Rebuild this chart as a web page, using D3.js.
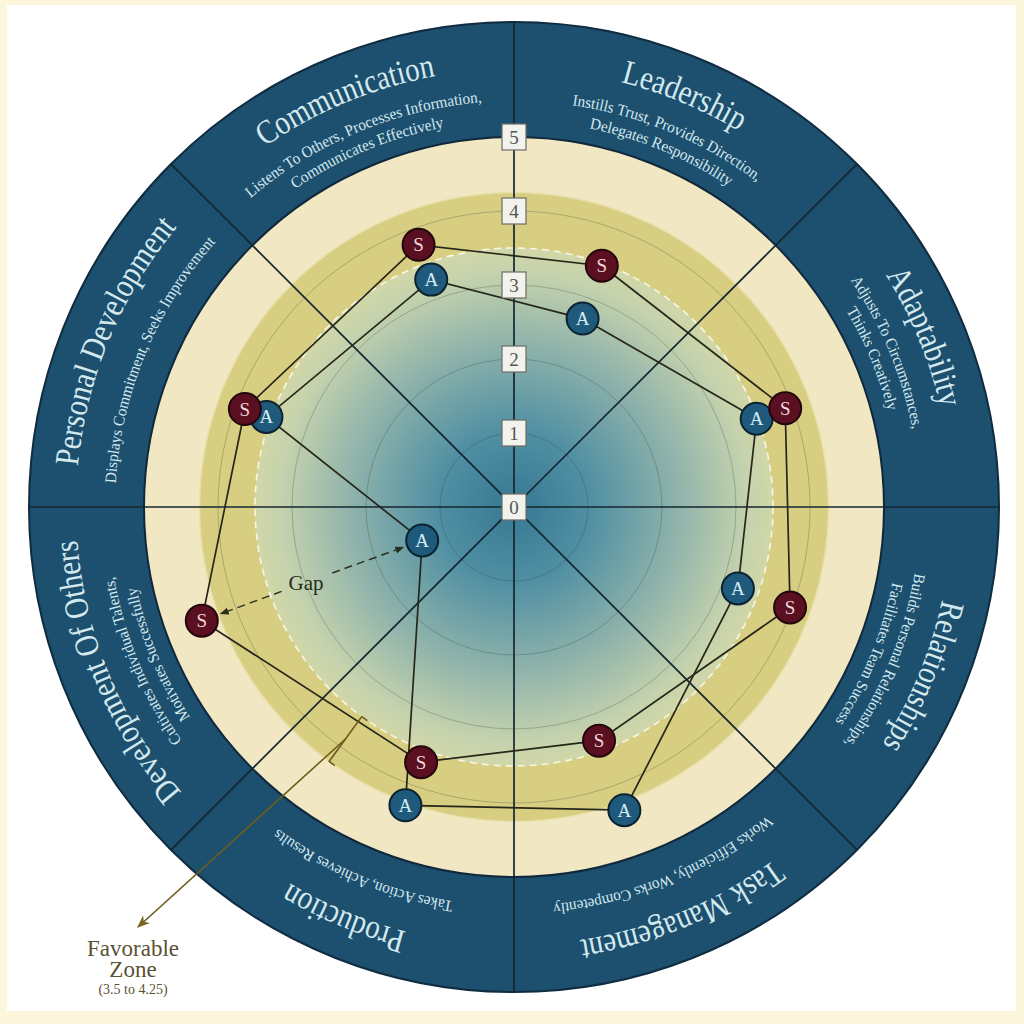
<!DOCTYPE html>
<html>
<head>
<meta charset="utf-8">
<script src="https://cdn.jsdelivr.net/npm/d3@7"></script>
<style>
  body { margin: 0; background: #fff; }
  text { font-family: "Liberation Serif", "DejaVu Serif", serif; }
</style>
</head>
<body>
<div class="main"></div>
<script>
// categories, clockwise from the top
const categories = ["Leadership", "Adaptability", "Relationships", "Task Management",
  "Production", "Development Of Others", "Personal Development", "Communication"];
const descriptions = [
  ["Instills Trust, Provides Direction,", "Delegates Responsibility"],
  ["Adjusts To Circumstances,", "Thinks Creatively"],
  ["Builds Personal Relationships,", "Facilitates Team Success"],
  ["Works Efficiently, Works Competently"],
  ["Takes Action, Achieves Results"],
  ["Cultivates Individual Talents,", "Motivates Successfully"],
  ["Displays Commitment, Seeks Improvement"],
  ["Listens To Others, Processes Information,", "Communicates Effectively"]
];
// S = self rating, A = assessment rating
const selfScores = [3.47, 3.90, 3.97, 3.36, 3.67, 4.49, 3.87, 3.77];
const assessScores = [2.71, 3.49, 3.22, 4.36, 4.29, 1.32, 3.56, 3.27];
const tickValues = [0, 1, 2, 3, 4, 5];
const gridValues = [1, 2, 3, 4];
const favorableZone = [3.5, 4.25];

function BuildGraph() {
  var fullwidth = 1024, fullheight = 1024;
  var cx = 514, cy = 507;
  var outerR = 485;

  var root = d3.select(".main")
    .append("svg")
    .attr("width", fullwidth)
    .attr("height", fullheight);

  // cream frame
  root.append("rect").attr("width", fullwidth).attr("height", fullheight).attr("fill", "#fcf7dc");
  root.append("rect").attr("x", 7).attr("y", 5).attr("width", 1009).attr("height", 1006).attr("fill", "#fff");

  var defs = root.append("defs");
  var svg = root.append("g").attr("transform", "translate(" + cx + "," + cy + ")");

  //scales
  var r = d3.scaleLinear().domain([0, 5]).range([0, 370]);
  var sector = d3.scaleBand().domain(categories).range([0, 2 * Math.PI]);
  var nudge = 2.5 * Math.PI / 180;
  var pointAngle = function(i) {
    return sector(categories[i]) + sector.bandwidth() / 2 + (i % 2 ? nudge : -nudge);
  };
  var px = function(v, a) { return r(v) * Math.sin(a); };
  var py = function(v, a) { return -r(v) * Math.cos(a); };

  //gradient for the inner disc
  var grad = defs.append("radialGradient")
    .attr("id", "innerGrad")
    .attr("gradientUnits", "userSpaceOnUse")
    .attr("cx", 0).attr("cy", 0).attr("r", r(favorableZone[0]));
  [[0, "#367893"], [0.3, "#5190a3"], [0.65, "#93b5ab"], [0.9, "#c4d2ad"], [1, "#d1d7a8"]]
    .forEach(function(s) {
      grad.append("stop").attr("offset", s[0]).attr("stop-color", s[1]);
    });

  //outer ring
  svg.append("circle").attr("r", outerR)
    .attr("fill", "#1d4f6f").attr("stroke", "#0f2c40").attr("stroke-width", 2);
  //light band
  svg.append("circle").attr("r", r(5))
    .attr("fill", "#f1e8c3").attr("stroke", "#10283a").attr("stroke-width", 2);
  //favorable zone band
  svg.append("circle").attr("r", r(favorableZone[1]))
    .attr("fill", "#d8ce82").attr("stroke", "#e8e0aa").attr("stroke-width", 1.5);
  //inner disc
  svg.append("circle").attr("r", r(favorableZone[0]))
    .attr("fill", "url(#innerGrad)");
  svg.append("circle").attr("r", r(favorableZone[0]))
    .attr("fill", "none").attr("stroke", "#f8f6e6").attr("stroke-width", 1.6)
    .attr("stroke-dasharray", "7,5");

  //thin grid circles
  svg.append("g").selectAll("circle")
    .data(gridValues)
    .join("circle")
    .attr("r", d => r(d))
    .attr("fill", "none")
    .attr("stroke", "#2b3a2e")
    .attr("stroke-opacity", 0.3)
    .attr("stroke-width", 0.9);

  //spokes (sector borders)
  svg.append("g").selectAll("line")
    .data(categories)
    .join("line")
    .attr("x1", 0).attr("y1", 0)
    .attr("x2", d => outerR * Math.sin(sector(d)))
    .attr("y2", d => -outerR * Math.cos(sector(d)))
    .attr("stroke", "#142630")
    .attr("stroke-width", 1.7);

  //category labels on arcs, clockwise, tops outward
  var arcPath = function(a0, a1, R) {
    return "M" + (R * Math.sin(a0)) + "," + (-R * Math.cos(a0)) +
      "A" + R + "," + R + " 0 0 1 " + (R * Math.sin(a1)) + "," + (-R * Math.cos(a1));
  };
  var labels = svg.append("g").attr("fill", "#d3e9ee");
  categories.forEach(function(c, i) {
    var mid = sector(c) + sector.bandwidth() / 2;
    var span = 0.5;
    var lines = [{ t: c, R: 438, size: 34, k: 0.85 }];
    if (descriptions[i].length === 2) {
      lines.push({ t: descriptions[i][0], R: 406, size: 16, k: 0.95 });
      lines.push({ t: descriptions[i][1], R: 386, size: 16, k: 0.95 });
    } else {
      lines.push({ t: descriptions[i][0], R: 399, size: 16, k: 0.95 });
    }
    lines.forEach(function(l, j) {
      var id = "lab" + i + "_" + j;
      defs.append("path").attr("id", id).attr("d", arcPath(mid - span, mid + span, l.R));
      var tp = labels.append("text")
        .attr("font-size", l.size)
        .append("textPath")
        .attr("href", "#" + id)
        .attr("startOffset", "50%")
        .attr("text-anchor", "middle")
        .text(l.t);
      var natural = tp.node().getComputedTextLength();
      tp.attr("textLength", natural * l.k).attr("lengthAdjust", "spacingAndGlyphs");
    });
  });

  //score outlines
  var line = d3.lineRadial()
    .angle(d => d.a)
    .radius(d => r(d.v))
    .curve(d3.curveLinearClosed);
  var selfPts = selfScores.map((v, i) => ({ v: v, a: pointAngle(i) }));
  var assessPts = assessScores.map((v, i) => ({ v: v, a: pointAngle(i) }));

  [selfPts, assessPts].forEach(function(pts) {
    svg.append("path")
      .attr("d", line(pts))
      .attr("fill", "none")
      .attr("stroke", "#26261a")
      .attr("stroke-width", 1.7);
  });

  //axis tick boxes
  var tickG = svg.append("g").selectAll("g")
    .data(tickValues)
    .join("g")
    .attr("transform", d => "translate(0," + (-r(d)) + ")");
  tickG.append("rect")
    .attr("x", -12).attr("y", -13).attr("width", 24).attr("height", 26)
    .attr("fill", "#f3f3ee").attr("stroke", "#6d6d66").attr("stroke-width", 1.2);
  tickG.append("text")
    .attr("text-anchor", "middle").attr("y", 7)
    .attr("font-size", 19).attr("fill", "#555")
    .text(d => d);

  //markers
  var drawMarkers = function(pts, letter, fill, stroke, ink) {
    var g = svg.append("g").selectAll("g")
      .data(pts)
      .join("g")
      .attr("transform", d => "translate(" + px(d.v, d.a) + "," + py(d.v, d.a) + ")");
    g.append("circle").attr("r", 16)
      .attr("fill", fill).attr("stroke", stroke).attr("stroke-width", 2);
    g.append("text")
      .attr("text-anchor", "middle").attr("y", 6.5)
      .attr("font-size", 19).attr("fill", ink)
      .text(letter);
  };
  drawMarkers(assessPts, "A", "#1f5a7c", "#0b2230", "#d6ecf2");
  drawMarkers(selfPts, "S", "#5a1021", "#23060c", "#f1d6dc");

  //arrow heads
  defs.append("marker").attr("id", "arrowDark")
    .attr("viewBox", "0 0 10 10").attr("refX", 9).attr("refY", 5)
    .attr("markerWidth", 9).attr("markerHeight", 9).attr("markerUnits", "userSpaceOnUse")
    .attr("orient", "auto")
    .append("path").attr("d", "M0,1L10,5L0,9Z").attr("fill", "#2a3020");
  defs.append("marker").attr("id", "arrowOlive")
    .attr("viewBox", "0 0 10 10").attr("refX", 9).attr("refY", 5)
    .attr("markerWidth", 13).attr("markerHeight", 13).attr("markerUnits", "userSpaceOnUse")
    .attr("orient", "auto")
    .append("path").attr("d", "M0,1L10,5L0,9L3,5Z").attr("fill", "#7a6420");

  //gap annotation between S and A of the largest gap
  var gi = 5;
  var sP = [px(selfPts[gi].v, selfPts[gi].a), py(selfPts[gi].v, selfPts[gi].a)];
  var aP = [px(assessPts[gi].v, assessPts[gi].a), py(assessPts[gi].v, assessPts[gi].a)];
  var len = Math.hypot(aP[0] - sP[0], aP[1] - sP[1]);
  var u = [(aP[0] - sP[0]) / len, (aP[1] - sP[1]) / len];
  var mid = [(sP[0] + aP[0]) / 2 - 6, (sP[1] + aP[1]) / 2 + 2];
  var gapG = svg.append("g")
    .attr("stroke", "#2a3020").attr("stroke-width", 1.5).attr("stroke-dasharray", "8,5");
  gapG.append("line")
    .attr("x1", mid[0] + 28 * u[0]).attr("y1", mid[1] + 28 * u[1])
    .attr("x2", aP[0] - 20 * u[0]).attr("y2", aP[1] - 20 * u[1])
    .attr("marker-end", "url(#arrowDark)");
  gapG.append("line")
    .attr("x1", mid[0] - 26 * u[0]).attr("y1", mid[1] - 26 * u[1])
    .attr("x2", sP[0] + 20 * u[0]).attr("y2", sP[1] + 20 * u[1])
    .attr("marker-end", "url(#arrowDark)");
  svg.append("text")
    .attr("x", mid[0]).attr("y", mid[1] + 7)
    .attr("text-anchor", "middle").attr("font-size", 21).attr("fill", "#262b1e")
    .text("Gap");

  //favorable zone bracket + leader
  var bA = 216;
  var bracket = svg.append("g").attr("transform", "rotate(" + bA + ")")
    .attr("fill", "none").attr("stroke", "#6e5c1c").attr("stroke-width", 1.6);
  bracket.append("path")
    .attr("d", "M-7," + (-r(favorableZone[0])) + "H0V" + (-r(favorableZone[1])) + "H-7");
  var bm = (r(favorableZone[0]) + r(favorableZone[1])) / 2;
  var bRad = bA * Math.PI / 180;
  var tip = [138 - cx, 927 - cy];
  svg.append("line")
    .attr("x1", bm * Math.sin(bRad)).attr("y1", -bm * Math.cos(bRad))
    .attr("x2", tip[0]).attr("y2", tip[1])
    .attr("stroke", "#6e5c1c").attr("stroke-width", 1.6)
    .attr("marker-end", "url(#arrowOlive)");

  var fz = root.append("g").attr("text-anchor", "middle").attr("fill", "#5a5234");
  fz.append("text").attr("x", 133).attr("y", 956).attr("font-size", 23).text("Favorable");
  fz.append("text").attr("x", 133).attr("y", 977).attr("font-size", 23).text("Zone");
  fz.append("text").attr("x", 133).attr("y", 994).attr("font-size", 14)
    .text("(" + favorableZone[0] + " to " + favorableZone[1] + ")");
}

BuildGraph();
</script>
</body>
</html>
